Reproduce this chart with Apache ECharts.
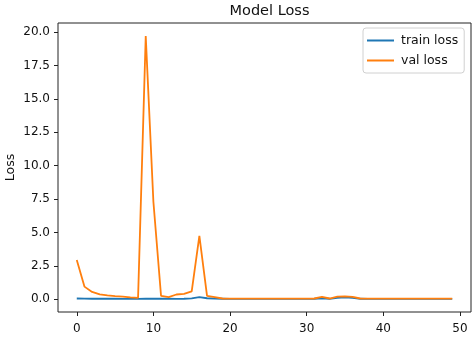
<!DOCTYPE html>
<html>
<head>
<meta charset="utf-8">
<script src="https://cdn.jsdelivr.net/npm/echarts@6/dist/echarts.min.js"></script>
<style>
  html, body { margin: 0; padding: 0; background: #fff; }
  #chart { width: 474px; height: 343px; }
</style>
</head>
<body>
<div id="chart"></div>
<script>
// Loss per epoch
const trainLoss = [
  0.06, 0.05, 0.04, 0.04, 0.04, 0.04, 0.03, 0.03, 0.03, 0.04,
  0.05, 0.04, 0.04, 0.03, 0.04, 0.07, 0.16, 0.08, 0.05, 0.04,
  0.03, 0.03, 0.03, 0.03, 0.03, 0.03, 0.03, 0.03, 0.03, 0.03,
  0.03, 0.04, 0.08, 0.04, 0.10, 0.14, 0.10, 0.04, 0.03, 0.03,
  0.03, 0.03, 0.03, 0.03, 0.03, 0.03, 0.03, 0.03, 0.03, 0.03
];
const valLoss = [
  2.95, 0.95, 0.55, 0.37, 0.30, 0.24, 0.20, 0.15, 0.11, 19.7,
  7.3, 0.25, 0.17, 0.36, 0.40, 0.60, 4.75, 0.25, 0.16, 0.06,
  0.05, 0.05, 0.05, 0.05, 0.05, 0.05, 0.05, 0.05, 0.05, 0.05,
  0.05, 0.06, 0.18, 0.06, 0.20, 0.22, 0.18, 0.06, 0.05, 0.05,
  0.05, 0.05, 0.05, 0.05, 0.05, 0.05, 0.05, 0.05, 0.05, 0.05
];
const xTicks = [0, 10, 20, 30, 40, 50];
const yTicks = [0, 2.5, 5, 7.5, 10, 12.5, 15, 17.5, 20];

const FONT = 'DejaVu Sans';
const chart = echarts.init(document.getElementById('chart'), null, { renderer: 'canvas' });

chart.setOption({
  animation: false,
  backgroundColor: '#fff',
  title: {
    text: 'Model Loss',
    left: 264.5,
    textAlign: 'center',
    top: -1,
    textStyle: { fontFamily: FONT, fontSize: 14.5, fontWeight: 'normal', color: '#111' }
  },
  legend: {
    orient: 'vertical',
    left: 363,
    top: 28,
    width: 100,
    padding: [6, 6, 6, 4],
    itemGap: 7,
    icon: 'rect',
    itemWidth: 27,
    itemHeight: 2,
    borderColor: '#d0d0d0',
    borderWidth: 1,
    borderRadius: 3,
    backgroundColor: '#fff',
    textStyle: { fontFamily: FONT, fontSize: 12.5, color: '#111', padding: [0, 0, 0, 2], lineHeight: 13 },
    data: ['train loss', 'val loss']
  },
  grid: {
    left: 58, top: 23, width: 413, height: 289,
    outerBoundsMode: 'none',
    containLabel: false,
    show: true, borderColor: '#222', borderWidth: 1, backgroundColor: 'transparent'
  },
  xAxis: {
    type: 'value',
    min: -2.45,
    max: 51.45,
    axisLine: { show: false, onZero: false },
    splitLine: { show: false },
    axisTick: { show: true, inside: false, length: 4, lineStyle: { color: '#222' }, customValues: xTicks },
    axisLabel: { fontFamily: FONT, fontSize: 12, color: '#111', margin: 11, customValues: xTicks }
  },
  yAxis: {
    type: 'value',
    min: -0.95,
    max: 20.68,
    name: 'Loss',
    nameLocation: 'middle',
    nameGap: 41,
    nameMoveOverlap: false,
    nameTextStyle: { fontFamily: FONT, fontSize: 12.5, color: '#111' },
    axisLine: { show: false, onZero: false },
    splitLine: { show: false },
    axisTick: { show: true, inside: false, length: 4, lineStyle: { color: '#222' }, customValues: yTicks },
    axisLabel: {
      fontFamily: FONT, fontSize: 12, color: '#111', margin: 8,
      customValues: yTicks,
      formatter: v => v.toFixed(1)
    }
  },
  series: [
    {
      name: 'train loss',
      type: 'line',
      data: trainLoss.map((v, i) => [i, v]),
      symbol: 'none',
      lineStyle: { color: '#1f77b4', width: 1.8 },
      itemStyle: { color: '#1f77b4' },
      z: 2
    },
    {
      name: 'val loss',
      type: 'line',
      data: valLoss.map((v, i) => [i, v]),
      symbol: 'none',
      lineStyle: { color: '#ff7f0e', width: 1.8 },
      itemStyle: { color: '#ff7f0e' },
      z: 3
    }
  ]
});
</script>
</body>
</html>
